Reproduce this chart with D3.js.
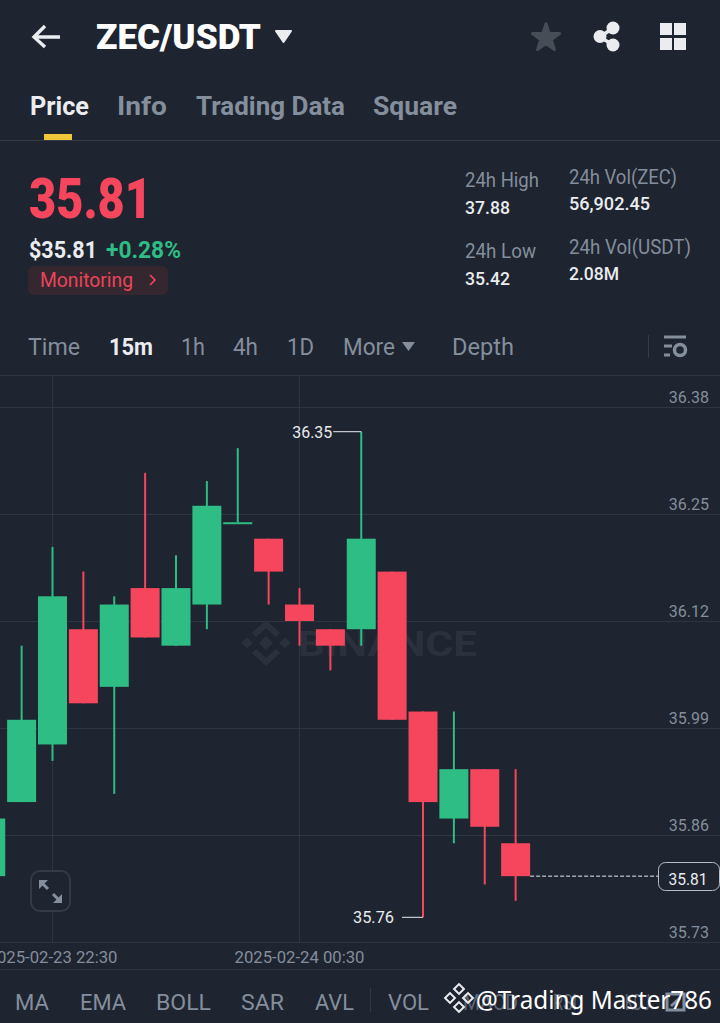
<!DOCTYPE html>
<html>
<head>
<meta charset="utf-8">
<script src="https://cdn.jsdelivr.net/npm/d3@7"></script>
<style>
  html, body { margin: 0; padding: 0; background: #1e2430; }
  svg { display: block; }
  text { font-family: Roboto, "Noto Sans", sans-serif; }
</style>
</head>
<body>
<div id="chart"></div>
<script>
/* candles, 15 minute bars */
var times = ["2025-02-23 22:00","2025-02-23 22:15","2025-02-23 22:30","2025-02-23 22:45","2025-02-23 23:00","2025-02-23 23:15",
  "2025-02-23 23:30","2025-02-23 23:45","2025-02-24 00:00","2025-02-24 00:15","2025-02-24 00:30","2025-02-24 00:45",
  "2025-02-24 01:00","2025-02-24 01:15","2025-02-24 01:30","2025-02-24 01:45","2025-02-24 02:00","2025-02-24 02:15"];
var opens  = [35.81,35.90,35.97,36.11,36.04,36.16,36.09,36.14,36.24,36.22,36.14,36.11,36.11,36.18,36.01,35.88,35.94,35.85];
var closes = [35.88,36.00,36.15,36.02,36.14,36.10,36.16,36.26,36.24,36.18,36.12,36.09,36.22,36.00,35.90,35.94,35.87,35.81];
var highs  = [35.88,36.09,36.21,36.18,36.15,36.30,36.20,36.29,36.33,36.22,36.16,36.11,36.35,36.18,36.01,36.01,35.94,35.94];
var lows   = [35.81,35.90,35.95,36.02,35.91,36.10,36.09,36.11,36.24,36.14,36.09,36.06,36.09,36.00,35.76,35.85,35.80,35.78];

var priceTicks = [36.38,36.25,36.12,35.99,35.86,35.73];
var timeTicks = ["2025-02-23 22:30","2025-02-24 00:30"];
var lastPrice = 35.81;
var maxMark = 36.35, minMark = 35.76;

var tabs = ["Price","Info","Trading Data","Square"];
var intervals = ["Time","15m","1h","4h","1D","More","Depth"];
var indicators = ["MA","EMA","BOLL","SAR","AVL","VOL","MACD","RSI","KDJ"];

var UP = "#2ebd85", DOWN = "#f6465d", GRID = "#2e3440", GREY = "#848e9c", WHITE = "#eaecef", BG = "#1e2430", MARK = "#2b313c";

var width = 720, height = 1023;
var svg = d3.select("#chart").append("svg").attr("width", width).attr("height", height);

var parseTime = d3.timeParse("%Y-%m-%d %H:%M");
var x = d3.scaleTime().domain(timeTicks.map(parseTime)).range([52.5, 299.5]);
var y = d3.scaleLinear().domain([36.38, 35.73]).range([407, 942]);

/*helper: text squeezed to the width*/
function label(str, px, py, size, color, weight, w, anchor){
	var t = svg.append("text").attr("x", px).attr("y", py).text(str)
		.attr("font-size", size).attr("fill", color)
		.attr("font-weight", weight || 400).attr("text-anchor", anchor || "start");
	if (w) t.attr("textLength", w).attr("lengthAdjust", "spacingAndGlyphs");
	return t;
}
function hline(x1, x2, yy, color){
	svg.append("line").attr("x1", x1).attr("x2", x2).attr("y1", yy).attr("y2", yy).attr("stroke", color).attr("stroke-width", 1);
}

/*////////// header //////////*/
svg.append("path").attr("d", "M60 37H35M45 26L34 37L45 47").attr("fill", "none").attr("stroke", WHITE).attr("stroke-width", 3.4);
label("ZEC/USDT", 96, 49, 35, "#ffffff", 900, 165);
svg.append("path").attr("d", "M276 31H291L283.5 42Z").attr("fill", WHITE).attr("stroke", WHITE).attr("stroke-width", 2).attr("stroke-linejoin", "round");
svg.append("path").attr("d", d3.symbol(d3.symbolStar, 230)()).attr("transform", "translate(546,38)")
	.attr("fill", "#474d57").attr("stroke", "#474d57").attr("stroke-width", 3).attr("stroke-linejoin", "round");
/*share icon*/
svg.append("path").attr("d", "M613 28L600 37L613 45").attr("fill", "none").attr("stroke", WHITE).attr("stroke-width", 3.5);
[[613,28],[600,36.5],[613,45]].forEach(function(p){
	svg.append("circle").attr("cx", p[0]).attr("cy", p[1]).attr("r", 6.5).attr("fill", WHITE);
});
/*grid icon*/
[[660,23],[674,23],[660,38],[674,38]].forEach(function(p){
	svg.append("rect").attr("x", p[0]).attr("y", p[1]).attr("width", 12).attr("height", 12).attr("fill", WHITE);
});

/*////////// tabs //////////*/
var tabX = [30,117,196,373], tabW = [59,50,149,84];
tabs.forEach(function(d, i){
	label(d, tabX[i], 115, 25, i == 0 ? WHITE : GREY, i == 0 ? 700 : 700, tabW[i]);
});
svg.append("rect").attr("x", 44).attr("y", 134).attr("width", 28).attr("height", 6).attr("fill", "#f0c63a");
hline(0, width, 140.5, "#353b46");

/*////////// price block //////////*/
label("35.81", 29, 218, 56, DOWN, 900, 123);
label("$35.81", 29, 258, 24, WHITE, 700, 68);
label("+0.28%", 106, 258, 23, UP, 700, 75);
svg.append("rect").attr("x", 28).attr("y", 266).attr("width", 140).attr("height", 29).attr("rx", 6).attr("fill", "#35272f");
label("Monitoring", 40, 287, 20, "#e8455a", 400, 93);
svg.append("path").attr("d", "M150 275L155 280L150 285").attr("fill", "none").attr("stroke", DOWN).attr("stroke-width", 1.6);

label("24h High", 465, 187, 20, GREY, 400, 74);
label("37.88", 465, 214, 19, WHITE, 500, 45);
label("24h Low", 465, 258, 20, GREY, 400, 71);
label("35.42", 465, 285, 19, WHITE, 500, 45);
label("24h Vol(ZEC)", 569, 184, 20, GREY, 400, 108);
label("56,902.45", 569, 210, 19, WHITE, 500, 81);
label("24h Vol(USDT)", 569, 254, 20, GREY, 400, 122);
label("2.08M", 569, 280, 19, WHITE, 500, 50);

/*////////// interval bar //////////*/
var intX = [28,109,181,233,287,343,452], intW = [52,44,24,25,27,52,62];
intervals.forEach(function(d, i){
	label(d, intX[i], 355, 24, i == 1 ? WHITE : GREY, i == 1 ? 700 : 400, intW[i]);
});
svg.append("path").attr("d", "M402 342H415L408.5 351Z").attr("fill", GREY);
svg.append("line").attr("x1", 648.5).attr("x2", 648.5).attr("y1", 335).attr("y2", 358).attr("stroke", "#353b46");
/*chart settings icon*/
svg.append("path").attr("d", "M664 337H686M664 346H672M664 355H670").attr("stroke", GREY).attr("stroke-width", 3).attr("fill", "none");
svg.append("circle").attr("cx", 680).attr("cy", 350).attr("r", 5.5).attr("fill", "none").attr("stroke", GREY).attr("stroke-width", 3.5);
hline(0, width, 375.5, GRID);

/*////////// chart: grid //////////*/
svg.append("g").selectAll("line").data(priceTicks).join("line")
	.attr("x1", 0).attr("x2", width).attr("y1", d => y(d) + .5).attr("y2", d => y(d) + .5)
	.attr("stroke", GRID);
svg.append("g").selectAll("line").data(timeTicks).join("line")
	.attr("x1", d => x(parseTime(d))).attr("x2", d => x(parseTime(d)))
	.attr("y1", 376).attr("y2", 942).attr("stroke", GRID);

/*watermark*/
var logo = svg.append("g").attr("transform", "translate(266,643)");
[[-19,0,4],[19,0,4],[0,0,5]].forEach(function(p){
	logo.append("rect").attr("x", p[0] - p[2]).attr("y", p[1] - p[2])
		.attr("width", p[2] * 2).attr("height", p[2] * 2).attr("fill", MARK)
		.attr("transform", "rotate(45 " + p[0] + " " + p[1] + ")");
});
logo.append("path").attr("d", "M-12 -8L0 -19L12 -8M-12 8L0 19L12 8").attr("fill", "none").attr("stroke", MARK).attr("stroke-width", 6);
label("BINANCE", 298, 656, 35, MARK, 700, 179);

/*////////// candles //////////*/
var candles = times.map(function(t, i){
	return {t: parseTime(t), o: opens[i], c: closes[i], h: highs[i], l: lows[i]};
});
var bodyW = 29;
function col(d){ return d.c >= d.o ? UP : DOWN; }
var g = svg.append("g");
g.selectAll(".wick").data(candles).join("line").attr("class", "wick")
	.attr("x1", d => x(d.t)).attr("x2", d => x(d.t))
	.attr("y1", d => y(d.h)).attr("y2", d => y(d.l))
	.attr("stroke", col).attr("stroke-width", 2);
g.selectAll(".body").data(candles).join("rect").attr("class", "body")
	.attr("x", d => x(d.t) - bodyW / 2).attr("width", bodyW)
	.attr("y", d => y(Math.max(d.o, d.c)))
	.attr("height", d => Math.max(y(Math.min(d.o, d.c)) - y(Math.max(d.o, d.c)), 2))
	.attr("fill", col);

/*high and low marks*/
var hiX = x(candles[12].t), loX = x(candles[14].t);
hline(hiX - 28, hiX, y(maxMark), WHITE);
label(maxMark.toFixed(2), hiX - 29, y(maxMark) + 6, 16, WHITE, 400, 40, "end");
hline(loX - 21, loX, y(minMark), WHITE);
label(minMark.toFixed(2), loX - 29, y(minMark) + 6, 16, WHITE, 400, 41, "end");

/*last price*/
svg.append("line").attr("x1", x(candles[17].t) + bodyW / 2).attr("x2", 658)
	.attr("y1", y(lastPrice)).attr("y2", y(lastPrice))
	.attr("stroke", WHITE).attr("stroke-dasharray", "4 2");
svg.append("rect").attr("x", 658.5).attr("y", 862.5).attr("width", 61).attr("height", 28).attr("rx", 7)
	.attr("fill", BG).attr("stroke", "#b7bdc6");
label(lastPrice.toFixed(2), 688, 885, 16, WHITE, 400, 39, "middle");

/*price labels*/
svg.append("g").selectAll("text").data(priceTicks).join("text")
	.attr("x", 709).attr("y", d => y(d) - 4).attr("text-anchor", "end")
	.attr("font-size", 16).attr("fill", GREY)
	.text(d => d.toFixed(2));

/*fullscreen button*/
svg.append("rect").attr("x", 31).attr("y", 871).attr("width", 39).attr("height", 40).attr("rx", 9)
	.attr("fill", BG).attr("stroke", "#353b46").attr("stroke-width", 2);
svg.append("path").attr("d", "M39 880H48L39 889ZM62 903H53L62 894Z").attr("fill", GREY);
svg.append("path").attr("d", "M42 883L48 889M53 894L59 900").attr("stroke", GREY).attr("stroke-width", 3);

/*////////// time axis //////////*/
svg.append("g").selectAll("text").data(timeTicks).join("text")
	.attr("x", d => x(parseTime(d))).attr("y", 963).attr("text-anchor", "middle")
	.attr("font-size", 16.7).attr("fill", GREY)
	.text(d => d);
hline(0, width, 969.5, "#2f3540");

/*////////// indicator bar //////////*/
var indX = [15,80,156,241,315,388,463,553,625], indW = [34,46,55,43,39,41,55,24,25];
indicators.forEach(function(d, i){
	label(d, indX[i], 1010, 22, i > 5 ? "#5e6673" : GREY, 400, indW[i]);
});
svg.append("line").attr("x1", 370.5).attr("x2", 370.5).attr("y1", 988).attr("y2", 1012).attr("stroke", "#353b46");
/*drawing tools icon, under the tag*/
svg.append("path").attr("d", "M667 994H684V1010H667ZM671 1006L680 998").attr("fill", "none").attr("stroke", "#848e9c").attr("stroke-width", 3);

/*////////// uploader tag //////////*/
var tag = svg.append("g").attr("transform", "translate(459,998)");
[[0,-9],[-9,0],[9,0],[0,9]].forEach(function(p){
	tag.append("rect").attr("x", p[0] - 3.5).attr("y", p[1] - 3.5).attr("width", 7).attr("height", 7)
		.attr("fill", "none").attr("stroke", WHITE).attr("stroke-width", 2)
		.attr("transform", "rotate(45 " + p[0] + " " + p[1] + ")");
});
label("@Trading Master786", 476, 1009, 25, "#ffffff", 400, 236).style("font-family", "'Noto Sans'");
</script>
</body>
</html>
